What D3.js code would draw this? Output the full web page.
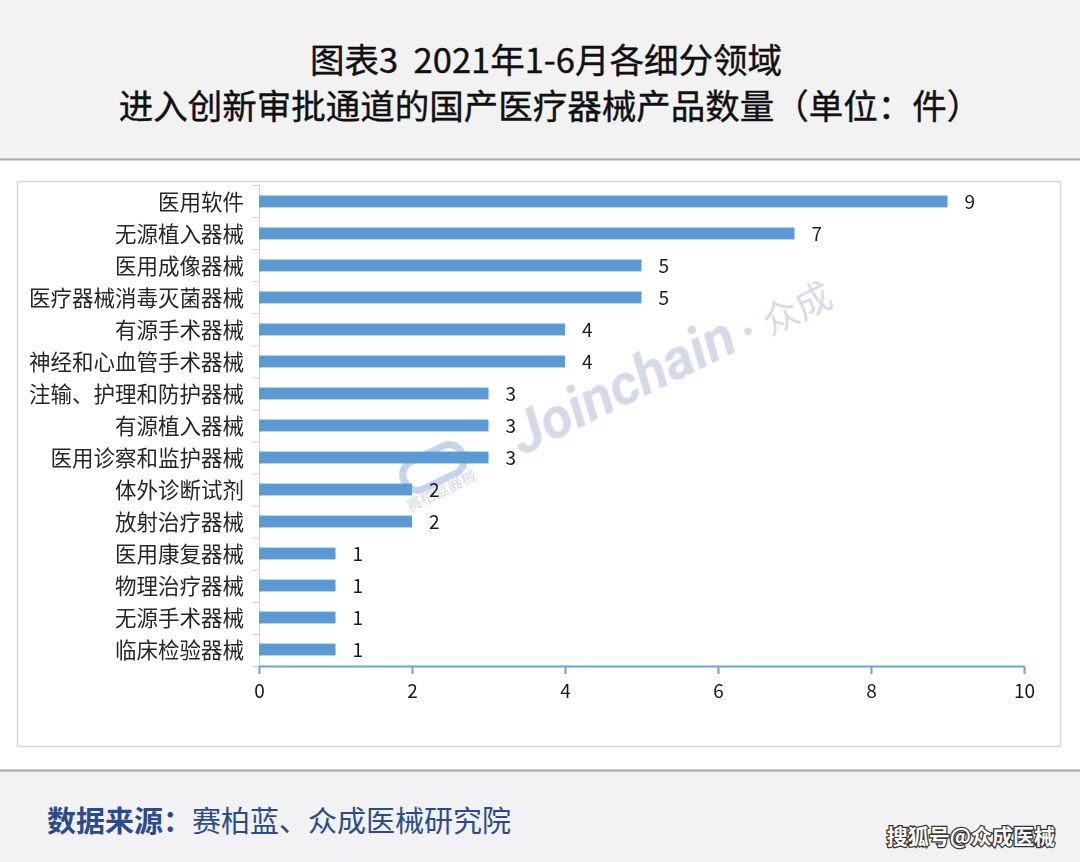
<!DOCTYPE html>
<html>
<head>
<meta charset="utf-8">
<script src="https://cdn.jsdelivr.net/npm/d3@7"></script>
<style>
  html, body { margin: 0; padding: 0; background: #fff; }
  svg { display: block; font-family: "Noto Sans CJK SC", "Noto Sans", sans-serif; }
</style>
</head>
<body>
<script>
'use strict';

const categories = ['医用软件', '无源植入器械', '医用成像器械', '医疗器械消毒灭菌器械', '有源手术器械',
  '神经和心血管手术器械', '注输、护理和防护器械', '有源植入器械', '医用诊察和监护器械', '体外诊断试剂',
  '放射治疗器械', '医用康复器械', '物理治疗器械', '无源手术器械', '临床检验器械'];
const counts = [9, 7, 5, 5, 4, 4, 3, 3, 3, 2, 2, 1, 1, 1, 1];
const xTicks = [0, 2, 4, 6, 8, 10];
const titleLines = ['图表3  2021年1-6月各细分领域', '进入创新审批通道的国产医疗器械产品数量（单位：件）'];

const W = 1080, H = 862;
const plot = { left: 259, right: 1024, top: 185, bottom: 666 };

const svg = d3.select('body').append('svg').attr('width', W).attr('height', H);

// header and footer bands
svg.append('rect').attr('x', 0).attr('y', 0).attr('width', W).attr('height', 159).attr('fill', '#f2f2f2');
svg.append('line').attr('x1', 0).attr('x2', W).attr('y1', 159.5).attr('y2', 159.5).attr('stroke', '#a6a6a6').attr('stroke-width', 2);
svg.append('rect').attr('x', 0).attr('y', 770).attr('width', W).attr('height', H - 770).attr('fill', '#f2f2f4');
svg.append('line').attr('x1', 0).attr('x2', W).attr('y1', 770.5).attr('y2', 770.5).attr('stroke', '#a6a6a6').attr('stroke-width', 2);

// the closing bracket carries blank space on its right, so nudge to look centred
svg.selectAll('text.title')
  .data(titleLines)
  .enter().append('text')
  .attr('class', 'title')
  .attr('x', (d, i) => W / 2 + (i === 0 ? 6 : 10))
  .attr('y', (d, i) => 73 + i * 46)
  .attr('text-anchor', 'middle')
  .attr('font-size', 34.5)
  .attr('font-weight', 400)
  .attr('fill', '#111')
  .attr('stroke', '#111').attr('stroke-width', 0.4)
  .attr('xml:space', 'preserve')
  .text(d => d);

// chart box
svg.append('rect').attr('x', 17.5).attr('y', 181.5).attr('width', 1043).attr('height', 565)
  .attr('fill', '#fff').attr('stroke', '#d9d9d9').attr('stroke-width', 1.5);

// watermark
const wm = svg.append('g').attr('opacity', 0.6);
wm.append('text')
  .attr('transform', 'translate(522,456) rotate(-26)')
  .attr('font-family', 'Roboto, sans-serif')
  .attr('font-size', 57).attr('font-weight', 700).attr('font-style', 'italic')
  .attr('fill', '#b9c1da')
  .text('Joinchain');
wm.append('text')
  .attr('transform', 'translate(738,352) rotate(-26)')
  .attr('font-size', 36)
  .attr('fill', '#b9c1da')
  .text('·众成');
wm.append('rect')
  .attr('transform', 'translate(398,468) rotate(-26)')
  .attr('width', 64).attr('height', 30).attr('rx', 14)
  .attr('fill', 'none').attr('stroke', '#9fb6e0').attr('stroke-width', 7);
wm.append('text')
  .attr('transform', 'translate(410,512) rotate(-26)')
  .attr('font-size', 15)
  .attr('fill', '#b9c1da')
  .text('赛柏蓝器械');

const x = d3.scaleLinear().domain([0, 10]).range([plot.left, plot.right]);
const y = d3.scaleBand().domain(categories).range([plot.top, plot.bottom]).paddingInner(0.63).paddingOuter(0.33);
const band = d3.scaleBand().domain(categories).range([plot.top, plot.bottom]);

// y axis with boundary ticks
const yAxisG = svg.append('g');
yAxisG.append('line').attr('x1', plot.left + 0.5).attr('x2', plot.left + 0.5)
  .attr('y1', plot.top).attr('y2', plot.bottom).attr('stroke', '#d0d0d0');
yAxisG.selectAll('line.tick')
  .data(categories.map(c => band(c)).concat([plot.bottom]))
  .enter().append('line')
  .attr('class', 'tick')
  .attr('x1', plot.left - 7).attr('x2', plot.left)
  .attr('y1', d => d + 0.5).attr('y2', d => d + 0.5)
  .attr('stroke', '#d0d0d0');
yAxisG.selectAll('text')
  .data(categories)
  .enter().append('text')
  .attr('x', plot.left - 15)
  .attr('y', d => band(d) + band.bandwidth() / 2 + 1)
  .attr('dy', '0.35em')
  .attr('text-anchor', 'end')
  .attr('font-size', 21.5)
  .attr('fill', '#262626')
  .text(d => d);

// bars
svg.selectAll('rect.bar')
  .data(categories)
  .enter().append('rect')
  .attr('class', 'bar')
  .attr('x', x(0))
  .attr('y', d => y(d))
  .attr('width', (d, i) => x(counts[i]) - x(0))
  .attr('height', y.bandwidth())
  .attr('fill', '#5b9bd5');

svg.selectAll('text.value')
  .data(categories)
  .enter().append('text')
  .attr('class', 'value')
  .attr('x', (d, i) => x(counts[i]) + 17)
  .attr('y', d => y(d) + y.bandwidth() / 2 + 1)
  .attr('dy', '0.35em')
  .attr('font-size', 19)
  .attr('fill', '#1a1a1a')
  .text((d, i) => counts[i]);

// x axis
const xAxis = d3.axisBottom(x).tickValues(xTicks).tickSize(8).tickPadding(11).tickSizeOuter(0);
const xAxisG = svg.append('g').attr('transform', 'translate(0,' + plot.bottom + ')').call(xAxis);
xAxisG.select('.domain').attr('stroke', '#6ea2d9').attr('stroke-width', 2);
xAxisG.selectAll('.tick line').attr('stroke', '#6ea2d9').attr('stroke-width', 2);
xAxisG.selectAll('.tick text')
  .attr('font-family', '"Noto Sans CJK SC", "Noto Sans", sans-serif')
  .attr('font-size', 19).attr('fill', '#1a1a1a');

// footer
const src = svg.append('text').attr('x', 47).attr('y', 832).attr('font-size', 29).attr('fill', '#2b4c8c');
src.append('tspan').attr('font-weight', 700).text('数据来源：');
src.append('tspan').attr('font-weight', 400).text('赛柏蓝、众成医械研究院');

svg.append('text')
  .attr('x', 1055).attr('y', 844)
  .attr('text-anchor', 'end')
  .attr('font-size', 21).attr('font-weight', 700)
  .attr('fill', '#fff').attr('stroke', '#333').attr('stroke-width', 2.5)
  .attr('paint-order', 'stroke')
  .text('搜狐号@众成医械');
</script>
</body>
</html>
